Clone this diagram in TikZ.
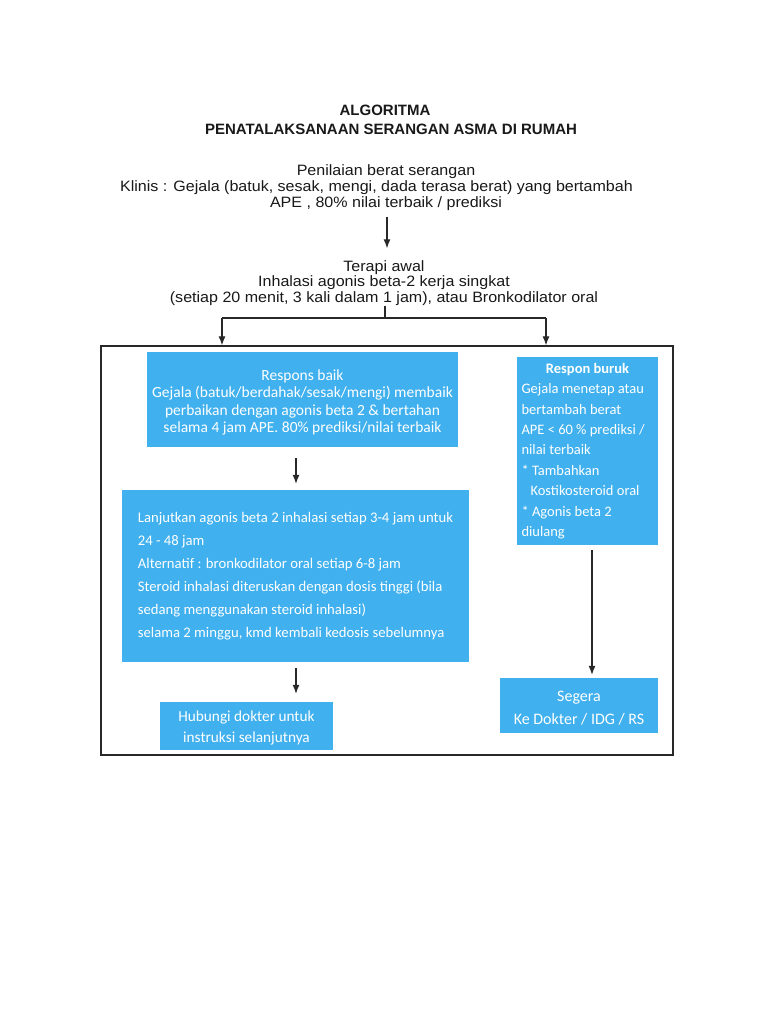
\documentclass[tikz,border=0pt]{standalone}
\usepackage{fontspec}
\setmainfont{Liberation Sans}
\newfontfamily\topfont[FakeStretch=1.07]{Liberation Sans}
\newfontfamily\boxfont{Carlito}
\usetikzlibrary{arrows.meta}
\definecolor{boxblue}{RGB}{64,176,238}
\definecolor{lineclr}{RGB}{40,40,40}
\begin{document}
\begin{tikzpicture}[x=1pt,y=-1pt,
  bluebox/.style={fill=boxblue, text=white, inner sep=0pt, align=center},
  arr/.style={-{Latex[length=9pt,width=7pt]}, line width=1.1pt, draw=lineclr},
  ln/.style={line width=1.1pt, draw=lineclr},
  toptext/.style={align=center, inner sep=0pt, text=black!90}]
\useasboundingbox[fill=white] (0,0) rectangle (768,1024);

% title
\node[toptext, font=\bfseries\fontsize{15}{19}\selectfont] (title) at (391,120)
  {ALGORITMA\rule{12pt}{0pt}\\PENATALAKSANAAN SERANGAN ASMA DI RUMAH};

% assessment
\node[toptext, font=\topfont\fontsize{15}{16}\selectfont] (assess) at (386,188)
  {Penilaian berat serangan\\
   Klinis : Gejala (batuk, sesak, mengi, dada terasa berat) yang bertambah\rule{19pt}{0pt}\\
   APE , 80\% nilai terbaik / prediksi};

% initial therapy
\node[toptext, font=\topfont\fontsize{15}{15.5}\selectfont] (terapi) at (384,283)
  {Terapi awal\\
   Inhalasi agonis beta-2 kerja singkat\\
   (setiap 20 menit, 3 kali dalam 1 jam), atau Bronkodilator oral};

\coordinate (mainaxis) at (387,0);
\draw[arr, shorten <=6pt, shorten >=12pt] (assess.south -| mainaxis) -- (terapi.north -| mainaxis);

% frame
\node[draw=lineclr, line width=1.3pt, minimum width=572pt, minimum height=409pt, inner sep=0pt] (frame) at (387,550.5) {};

% split
\coordinate (split) at (385,318);
\coordinate (leftdrop) at (222,318);
\coordinate (rightdrop) at (546,318);
\draw[ln] (terapi.south -| split) -- (split);
\draw[ln] (leftdrop) -- (rightdrop);
\draw[arr] (leftdrop) -- (leftdrop |- frame.north);
\draw[arr] (rightdrop) -- (rightdrop |- frame.north);

% left column
\node[bluebox, font=\boxfont\fontsize{15.5}{17.5}\selectfont, minimum width=311pt, minimum height=95pt] (good) at (302.5,399.5)
  {\rule{0pt}{17pt}Respons baik\\
   Gejala (batuk/berdahak/sesak/mengi) membaik\\
   perbaikan dengan agonis beta 2 \& bertahan\\
   selama 4 jam APE. 80\% prediksi/nilai terbaik};

\node[bluebox, font=\boxfont\fontsize{14.7}{23}\selectfont, align=left, minimum width=347pt, minimum height=172pt] (cont) at (295.5,576)
  {Lanjutkan agonis beta 2 inhalasi setiap 3-4 jam untuk\\
   24 - 48 jam\\
   Alternatif : bronkodilator oral setiap 6-8 jam\\
   Steroid inhalasi diteruskan dengan dosis tinggi (bila\\
   sedang menggunakan steroid inhalasi)\\
   selama 2 minggu, kmd kembali kedosis sebelumnya};

\node[bluebox, font=\boxfont\fontsize{15.3}{21}\selectfont, minimum width=173pt, minimum height=48pt] (call) at (246.5,726)
  {\rule{0pt}{14pt}Hubungi dokter untuk\\instruksi selanjutnya};

\coordinate (leftaxis) at (296,0);
\draw[arr, shorten <=11pt, shorten >=6pt] (good.south -| leftaxis) -- (cont.north -| leftaxis);
\draw[arr, shorten <=6pt, shorten >=8pt] (cont.south -| leftaxis) -- (call.north -| leftaxis);

% right column
\node[bluebox, font=\boxfont\fontsize{14.5}{20.4}\selectfont, align=left, minimum width=141pt, minimum height=188pt] (bad) at (587.5,451)
  {\makebox[132pt][c]{\bfseries Respon buruk}\\
   Gejala menetap atau\\
   bertambah berat\\
   APE < 60 \% prediksi /\\
   nilai terbaik\\
   {*} Tambahkan\\
   \hspace*{9pt}Kostikosteroid oral\\
   {*} Agonis beta 2\\
   diulang};

\node[bluebox, font=\boxfont\fontsize{16}{23}\selectfont, minimum width=158pt, minimum height=55pt] (urgent) at (579,705.5)
  {\rule{0pt}{15pt}Segera\\Ke Dokter / IDG / RS};

\coordinate (rightaxis) at (592,0);
\draw[arr, shorten <=5pt, shorten >=3pt] (bad.south -| rightaxis) -- (urgent.north -| rightaxis);
\end{tikzpicture}
\end{document}
